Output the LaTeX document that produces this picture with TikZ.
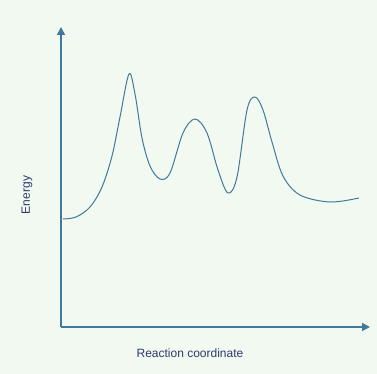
\documentclass[tikz,border=0pt]{standalone}
\usepackage{fontspec}
\setmainfont{Liberation Sans}
\usetikzlibrary{arrows.meta}
\definecolor{bg}{HTML}{F1F9F0}
\definecolor{axis}{HTML}{41789E}
\definecolor{lbl}{HTML}{2E3A6E}
\tikzset{
  axisline/.style={draw=axis, line width=1.6pt, -{Triangle[length=8pt,width=8pt]}},
  curveline/.style={draw=axis, line width=1pt, line join=round},
  lab/.style={text=lbl, font=\fontsize{12}{14}\selectfont, inner sep=0pt}
}
\begin{document}
\begin{tikzpicture}[x=1pt,y=-1pt]
\fill[bg] (0,0) rectangle (377,374);
\useasboundingbox (0,0) rectangle (377,374);
\coordinate (O) at (61,327);
\coordinate (Ytop) at (61,27);
\coordinate (Xend) at (370,327);
\draw[axisline] (O) -- (Ytop);
\draw[axisline] (O) -- (Xend);
\draw[curveline] plot[smooth, tension=0.55] coordinates {
 (63,219) (76,217) (90,207) (102,187) (112,156) (120,117) (129,74)
 (135,94) (142,138) (150,166) (160,179) (170,173) (183,133) (195,119)
 (207,133) (218,170) (228,193) (237,177) (247,110) (255,97) (263,110)
 (272,142) (283,176) (300,195) (330,202) (359,198)};
\node[lab] (xl) at (190,353) {Reaction coordinate};
\node[lab, rotate=90] (yl) at (27,195) {Energy};
\end{tikzpicture}
\end{document}
